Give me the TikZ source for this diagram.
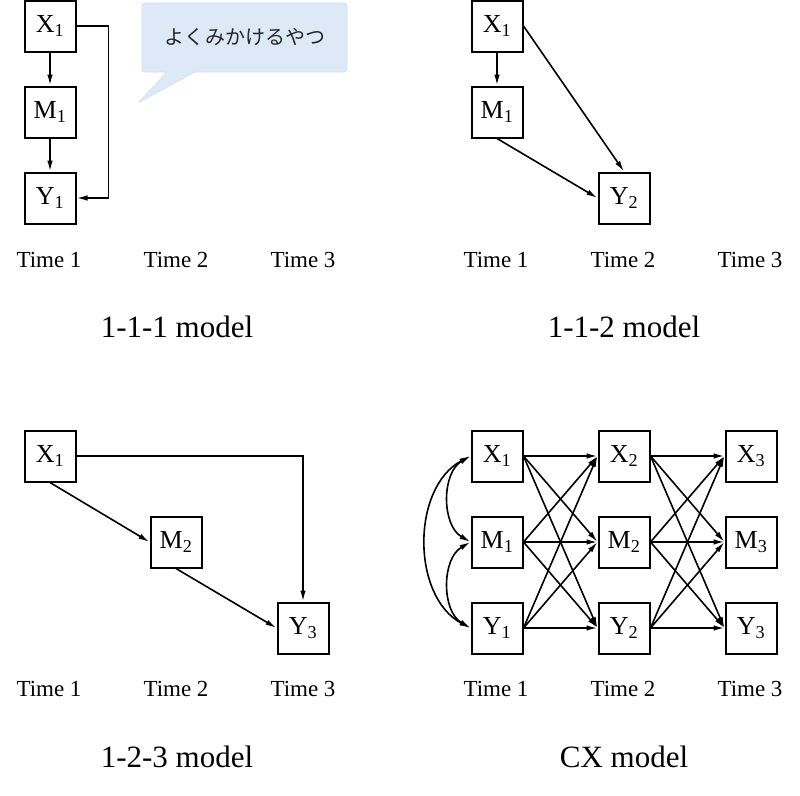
\documentclass[tikz,border=0pt]{standalone}
\usepackage{fontspec}
\setmainfont{Liberation Serif}
\newfontfamily\cjk{Noto Sans CJK JP}
\usetikzlibrary{arrows.meta}
\definecolor{bleubulle}{RGB}{221,233,246}
\definecolor{bordbulle}{RGB}{208,222,240}

\begin{document}
\begin{tikzpicture}[x=1pt,y=-1pt,line width=1.6pt,
                        >={Latex[length=11pt,width=5.5pt]}]
    \tikzstyle{noeud}=[draw,line width=2pt,minimum size=51pt,inner sep=0pt,font=\fontsize{26}{26}\selectfont]
    \tikzstyle{temps}=[font=\fontsize{23}{23}\selectfont]
    \tikzstyle{titre}=[font=\fontsize{31}{31}\selectfont]
    \tikzstyle{bulle}=[fill=bleubulle,draw=bordbulle,line width=0.6pt,rounded corners=3pt]
    \useasboundingbox (0,0) rectangle (800,795);
    % 1-1-1 model
    \node[noeud] (ax1) at (50,26) {X\textsubscript{1}};
    \node[noeud] (am1) at (50,112) {M\textsubscript{1}};
    \node[noeud] (ay1) at (50,198) {Y\textsubscript{1}};
    \draw[->] (ax1) -- (am1);
    \draw[->] (am1) -- (ay1);
    \draw[->] (ax1.east) -- ++(32,0) |- (ay1.east);
    \node[titre] (atitre) at (177,327) {1-1-1 model};
    % la bulle
    \path[bulle] (142,3) -- (347,3) -- (347,72) -- (195,72) -- (138,103) -- (167,72) -- (142,72) -- cycle;
    \node[font=\cjk\fontsize{20}{20}\selectfont,text=black!85] (bulletexte) at (245,37) {よくみかけるやつ};
    % 1-1-2 model
    \node[noeud] (bx1) at (497,26) {X\textsubscript{1}};
    \node[noeud] (bm1) at (497,112) {M\textsubscript{1}};
    \node[noeud] (by2) at (624,198) {Y\textsubscript{2}};
    \draw[->] (bx1) -- (bm1);
    \draw[->] (bx1.east) -- (by2.north);
    \draw[->] (bm1.south) -- (by2.west);
    \node[titre] (btitre) at (624,327) {1-1-2 model};
    % 1-2-3 model
    \node[noeud] (cx1) at (50,456) {X\textsubscript{1}};
    \node[noeud] (cm2) at (176,542) {M\textsubscript{2}};
    \node[noeud] (cy3) at (303,628) {Y\textsubscript{3}};
    \draw[->] (cx1.south) -- (cm2.west);
    \draw[->] (cm2.south) -- (cy3.west);
    \draw[->] (cx1.east) -| (cy3.north);
    \node[titre] (ctitre) at (177,757) {1-2-3 model};
    % CX model
    \foreach \t/\x in {1/497,2/624,3/751} {
       \node[noeud] (dx\t) at (\x,456) {X\textsubscript{\t}};
       \node[noeud] (dm\t) at (\x,542) {M\textsubscript{\t}};
       \node[noeud] (dy\t) at (\x,628) {Y\textsubscript{\t}};
    }
    \foreach \t/\s in {1/2,2/3}
       \foreach \a in {x,m,y}
          \foreach \b in {x,m,y}
             \draw[->] (d\a\t.east) -- (d\b\s.west);
    \draw[<->] (dx1.west) to[bend right=60] (dm1.west);
    \draw[<->] (dm1.west) to[bend right=60] (dy1.west);
    \draw[<->] (dx1.west) to[bend right=62] (dy1.west);
    \node[titre] (dtitre) at (624,757) {CX model};
    % Time 1, 2, 3
    \foreach \p/\dx/\y in {a/0/260,b/447/260,c/0/689,d/447/689}
       \foreach \x/\n in {49/1,176/2,303/3}
          \node[temps] (\p t\n) at ({\x+\dx},\y) {Time \n};
\end{tikzpicture}
\end{document}
